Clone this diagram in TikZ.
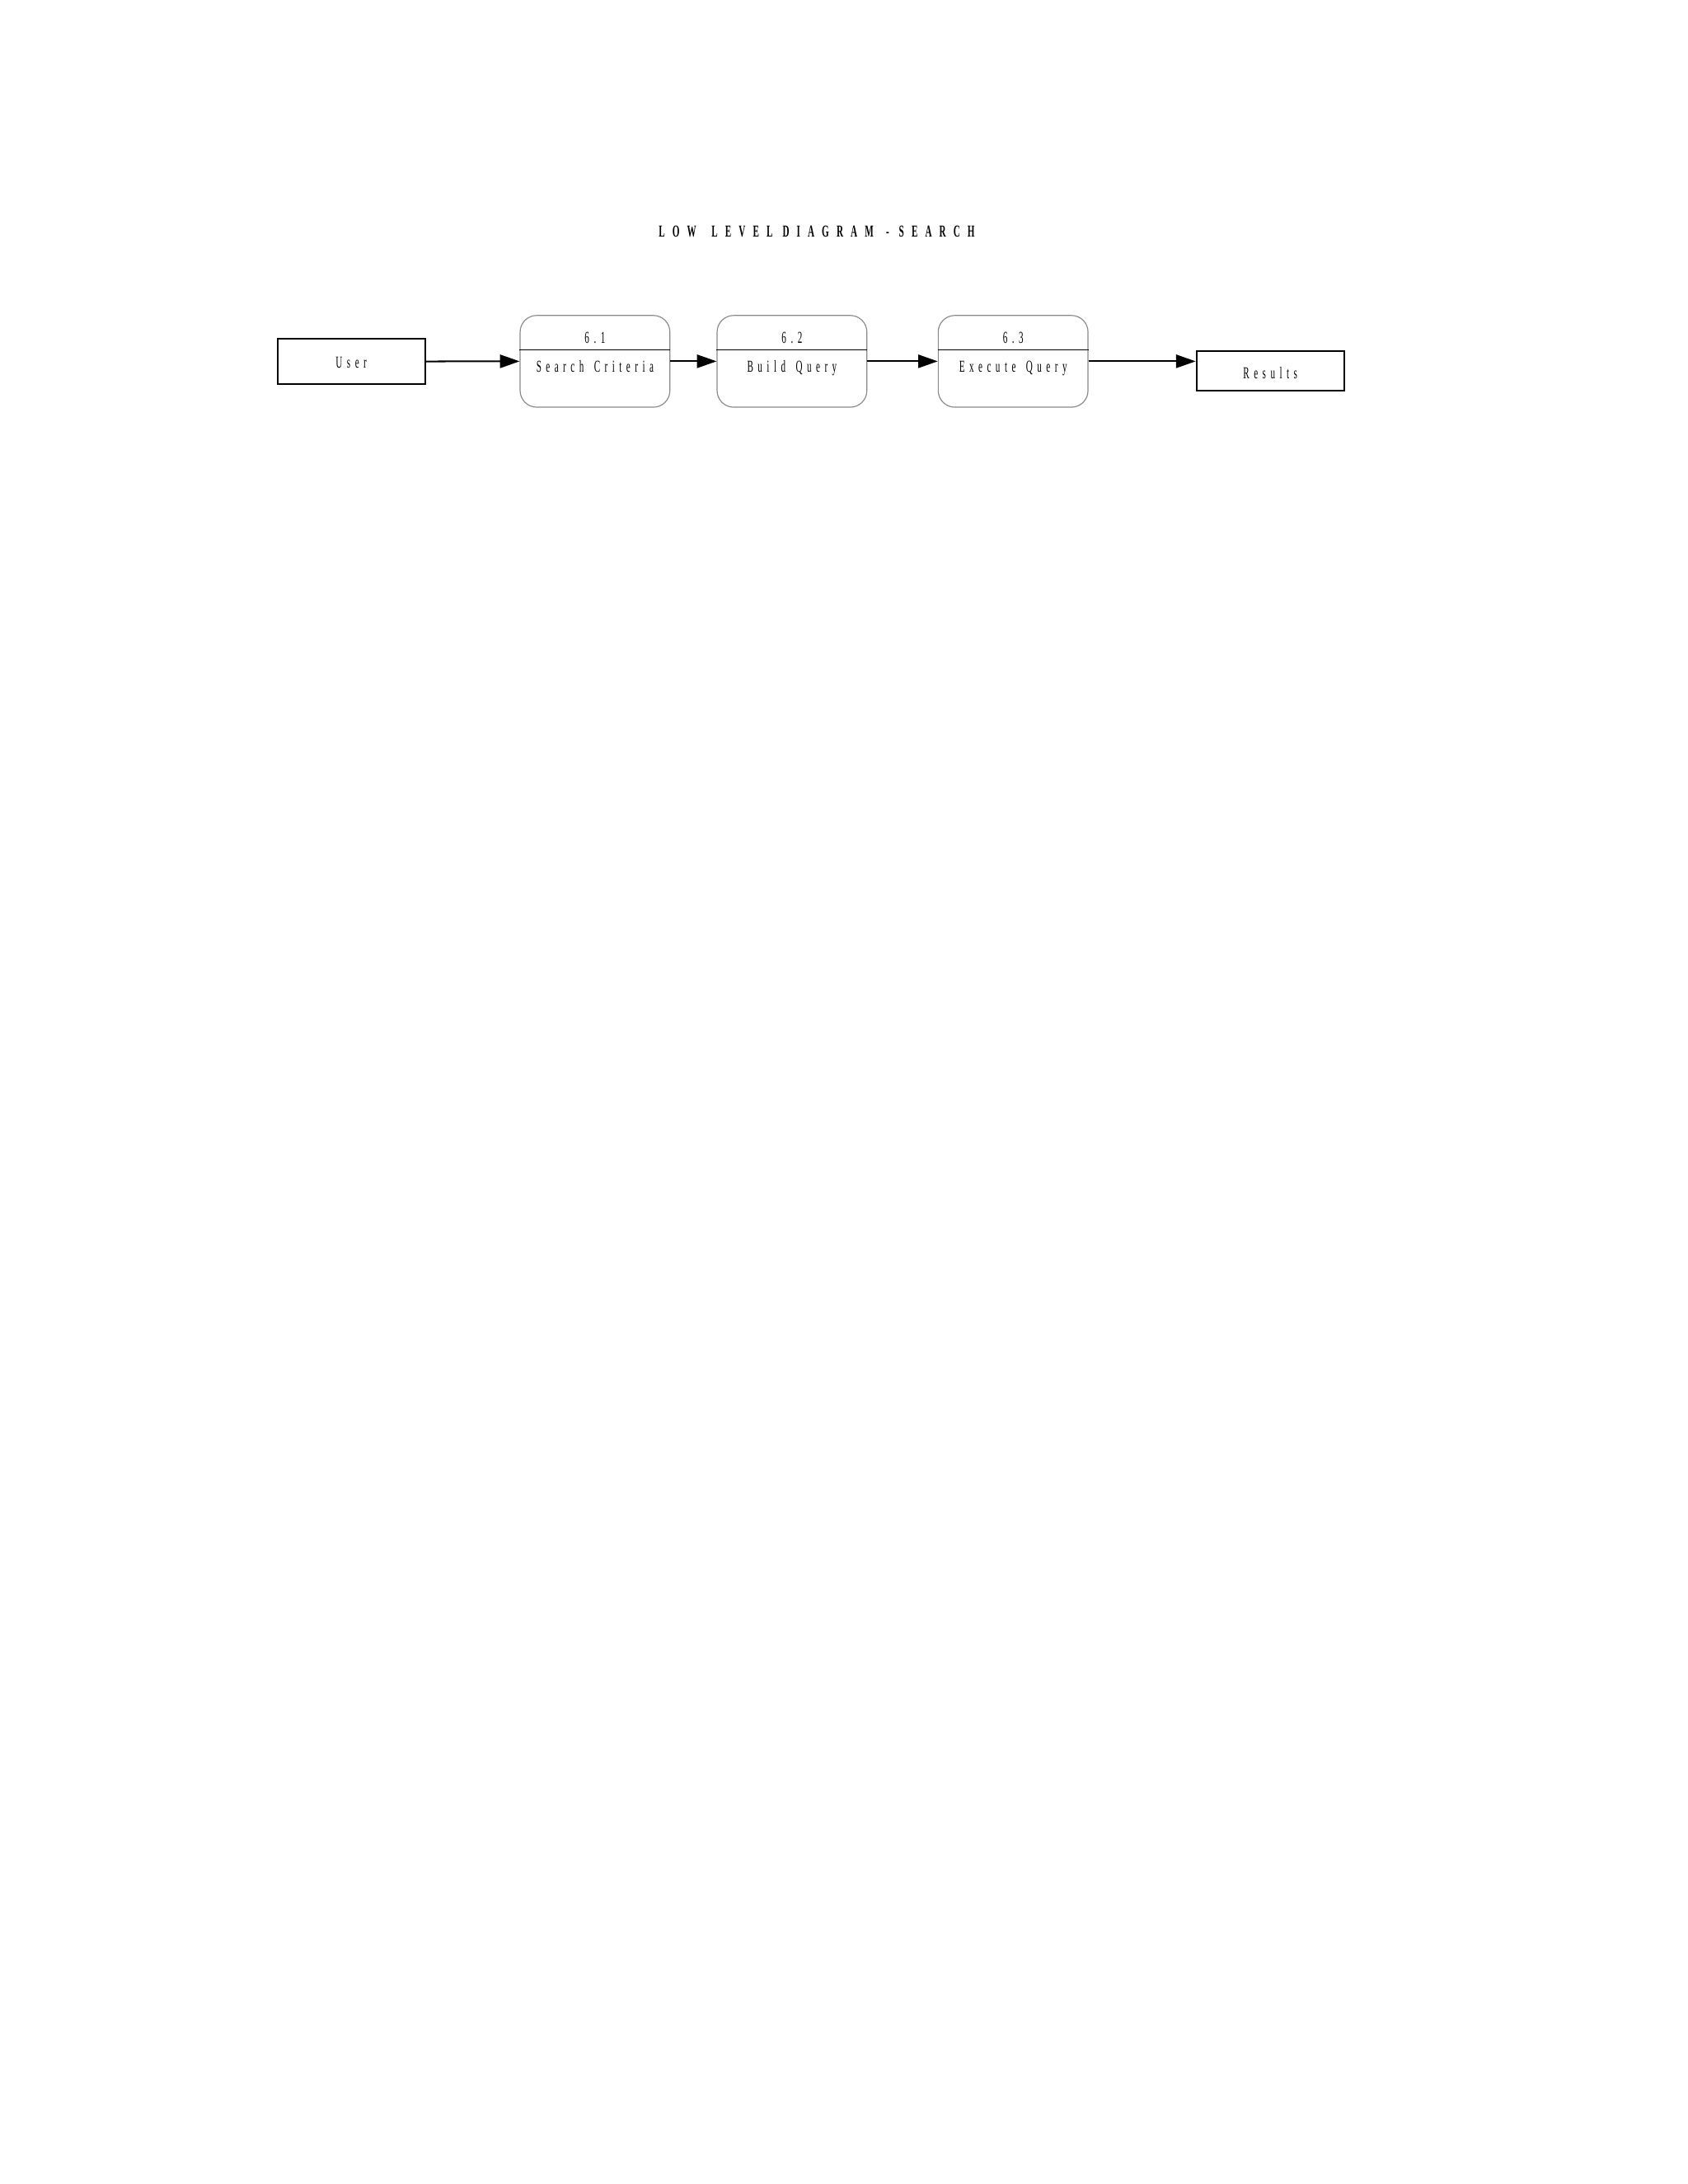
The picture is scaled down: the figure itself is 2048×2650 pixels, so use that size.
\documentclass[tikz,border=0pt]{standalone}
\usepackage{fontspec}
\usetikzlibrary{arrows.meta,calc}
\newfontfamily\dfont{Liberation Serif}[FakeStretch=0.55,LetterSpace=27,WordSpace=1.5]
\newfontfamily\tfont{Liberation Serif Bold}[FakeStretch=0.55,LetterSpace=45]
\definecolor{procgray}{HTML}{8A8A8A}
\tikzset{
  ext/.style={draw=black,line width=0.6pt,minimum width=179*0.29883pt,inner sep=0pt},
  proc/.style={draw=procgray,line width=0.35pt,rounded corners=6pt,minimum width=181.7*0.29883pt,minimum height=111.3*0.29883pt,inner sep=0pt},
  divider/.style={draw=black,line width=0.5pt},
  txt/.style={font=\dfont\fontsize{6.05}{7}\selectfont,inner sep=0pt,anchor=base},
  ttl/.style={font=\tfont\fontsize{6.05}{7}\selectfont,inner sep=0pt,anchor=base},
  flow/.style={draw=black,line width=0.6pt,-{Triangle[length=7.1pt,width=4.8pt]}}
}
\begin{document}
\begin{tikzpicture}[x=0.29883pt,y=-0.29883pt]
\useasboundingbox[fill=white] (0,0) rectangle (2048,2650);
\node[ttl] (title) at (991,287.3) {LOW\,\, LEVEL DIAGRAM\, - SEARCH};
% external entities
\node[ext,minimum height=55*0.29883pt] (user) at (426.2,438.5) {};
\node[txt] (usertxt) at (426.2,446.7) {User};
\node[ext,minimum height=48*0.29883pt] (res) at (1541.2,450) {};
\node[txt] (restxt) at (1541.2,459.3) {Results};
% processes
\node[proc] (p1) at (721.9,438.4) {};
\node[proc] (p2) at (960.9,438.4) {};
\node[proc] (p3) at (1229.2,438.4) {};
\foreach \p/\n/\l in {p1/{6.1}/Search Criteria,p2/{6.2}/Build Query,p3/{6.3}/Execute Query}{
  \draw[divider] ($(\p.north west)+(0,42.3)$) -- ($(\p.north east)+(0,42.3)$);
  \node[txt] (\p num) at ($(\p.north)+(0,34.6)$) {\n};
  \node[txt] (\p lbl) at ($(\p.north)+(0,69.6)$) {\l};
}
% flows
\draw[flow] (user.east) -- (p1.west);
\draw[flow] (p1.east) -- (p2.west);
\draw[flow] (p2.east) -- (p3.west);
\draw[flow] (p3.east) -- (res.west |- p3.east);
\end{tikzpicture}
\end{document}
